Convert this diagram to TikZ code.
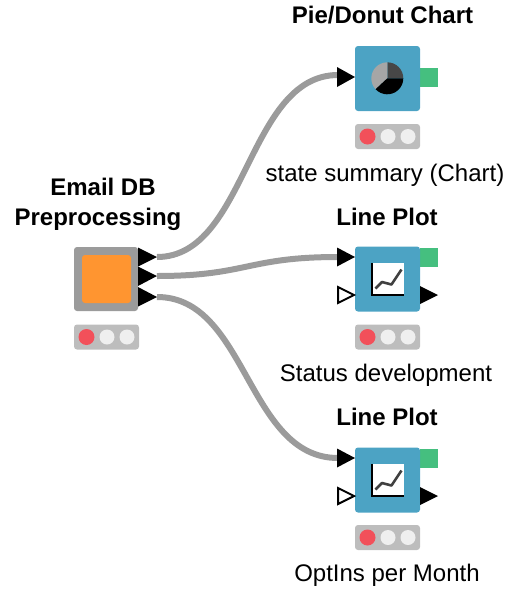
\documentclass[tikz,border=0pt]{standalone}
\usepackage{fontspec}
\setmainfont{Liberation Sans}
\definecolor{nodeblue}{HTML}{4CA3C4}
\definecolor{portgreen}{HTML}{45BF7F}
\definecolor{wiregray}{HTML}{9B9B9B}
\definecolor{lightbg}{HTML}{BDBDBD}
\definecolor{lampred}{HTML}{F2505A}
\definecolor{lampoff}{HTML}{EFEFEF}
\definecolor{orangefill}{HTML}{FF9530}
\tikzset{
  titletext/.style={anchor=base,inner sep=0pt,font=\fontsize{24}{24}\selectfont\bfseries},
  captiontext/.style={anchor=base,inner sep=0pt,font=\fontsize{24}{24}\selectfont},
  bluebox/.style={fill=nodeblue,rounded corners=3pt,minimum width=65pt,minimum height=65pt,inner sep=0pt},
  graybox/.style={fill=wiregray,rounded corners=3pt,minimum width=64pt,minimum height=64pt,inner sep=0pt},
  orangebox/.style={fill=orangefill,rounded corners=3pt,minimum width=49pt,minimum height=48pt,inner sep=0pt},
  greenport/.style={fill=portgreen,minimum width=18pt,minimum height=19pt,inner sep=0pt},
  lightbar/.style={fill=lightbg,rounded corners=3pt,minimum width=65pt,minimum height=25pt,inner sep=0pt},
  lampr/.style={circle,fill=lampred,minimum size=16pt,inner sep=0pt},
  lampo/.style={circle,fill=lampoff,minimum size=15pt,inner sep=0pt},
  wire/.style={draw=wiregray,line width=6pt},
  porttip/.style={fill=black},
  hollowtip/.style={draw=black,fill=white,line width=2pt,line join=miter},
  plotbg/.style={fill=white,minimum width=32pt,minimum height=32pt,inner sep=0pt},
}
\newcommand{\lampbar}[3]{%
  \node[lightbar] (#1) at (#2,#3) {};
  \node[lampr] (#1r) at (#2-20,#3) {};
  \node[lampo] (#1a) at (#2+0.5,#3) {};
  \node[lampo] (#1b) at (#2+20.5,#3) {};
}
\newcommand{\plotnode}[3]{%
  \node[greenport] (#1g) at (429,#3-21.5) {};
  \node[bluebox] (#1) at (387.5,#3) {};
  \node[plotbg] (#1p) at (388,#3) {};
  \draw[black,line width=1.6pt] (#1p.north west) -- (#1p.south west) -- (#1p.south east);
  \draw[black!75,line width=2.6pt,line join=round] (375.5,#3+9.5) -- (382,#3+3) -- (391.5,#3+5.5) -- (401.5,#3-9.5);
  \fill[porttip] (337,#3-31.5) -- (355,#3-22) -- (337,#3-12.5) -- cycle;
  \draw[hollowtip] (338,#3+8) -- (354,#3+16) -- (338,#3+24) -- cycle;
  \fill[porttip] (420,#3+7) -- (438,#3+16) -- (420,#3+25) -- cycle;
}
\begin{document}
\begin{tikzpicture}[x=1pt,y=-1pt]
\useasboundingbox (0,0) rectangle (512,590);
% connection points
\coordinate (o1) at (157,257);
\coordinate (o2) at (157,276);
\coordinate (o3) at (157,297);
\coordinate (piein) at (338,75);
\coordinate (lpain) at (338,257);
\coordinate (lpbin) at (338,458);
% wires go under the ports
\draw[wire] (o1) .. controls (247,257) and (247,75) .. (piein);
\draw[wire] (o2) .. controls (247,276) and (247,257) .. (lpain);
\draw[wire] (o3) .. controls (247,297) and (247,458) .. (lpbin);
% source
\node[graybox] (src) at (106,279) {};
\node[orangebox] (srco) at (106.5,279) {};
\lampbar{srcl}{106.5}{337}
\fill[porttip] (138,247.5) -- (o1) -- (138,266.5) -- cycle;
\fill[porttip] (138,266.5) -- (o2) -- (138,286) -- cycle;
\fill[porttip] (138,287) -- (o3) -- (138,306.5) -- cycle;
% pie
\node[greenport] (pieg) at (429,77) {};
\node[bluebox] (pie) at (387.5,78.5) {};
\begin{scope}[shift={(387.3,78.3)},y=1pt]
  \fill[black!72] (0,0) -- (0:16) arc[start angle=0,end angle=90,radius=16] -- cycle;
  \fill[gray!70!white] (0,0) -- (90:16) arc[start angle=90,end angle=223,radius=16] -- cycle;
  \fill[black] (0,0) -- (223:16) arc[start angle=223,end angle=360,radius=16] -- cycle;
\end{scope}
\fill[porttip] (337,67) -- (355,77) -- (337,87) -- cycle;
\lampbar{piel}{387.5}{136.5}
% plots
\plotnode{lpa}{0}{279}
\lampbar{lpal}{387.5}{337}
\plotnode{lpb}{0}{480}
\lampbar{lpbl}{387.5}{537.5}
% text
\node[titletext] (t1) at (382.5,23) {Pie/Donut Chart};
\node[captiontext] (c1) at (385,181) {state summary (Chart)};
\node[titletext] (t2) at (387,225) {Line Plot};
\node[captiontext] (c2) at (386,381) {Status development};
\node[titletext] (t3) at (387,425) {Line Plot};
\node[captiontext] (c3) at (387,581) {OptIns per Month};
\node[titletext] (t4) at (103,195) {Email DB};
\node[titletext] (t5) at (98,225) {Preprocessing};
\end{tikzpicture}
\end{document}
